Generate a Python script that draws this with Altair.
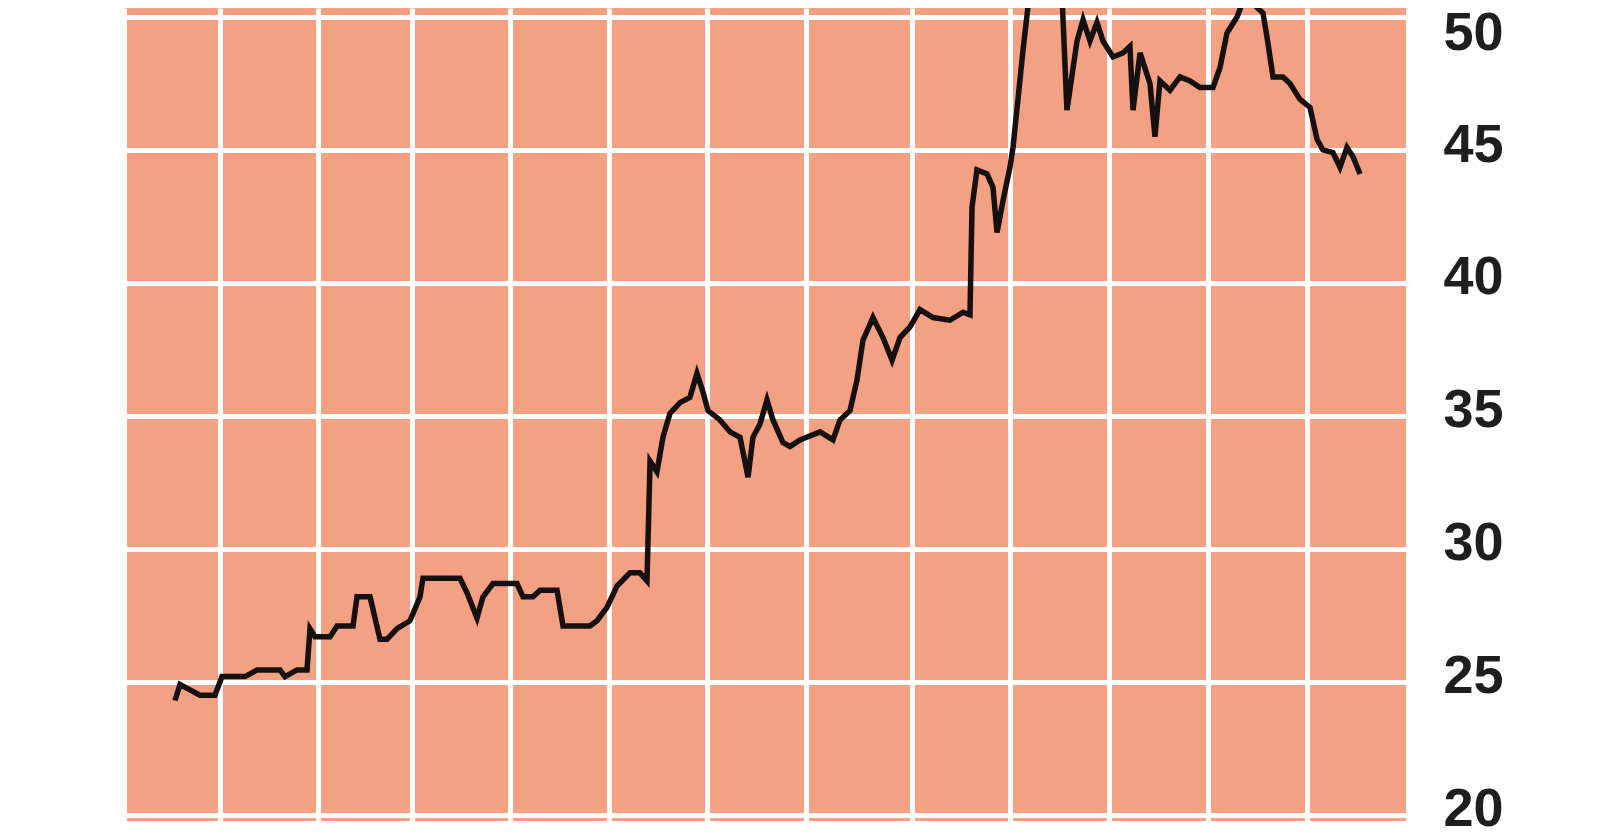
import altair as alt
import pandas as pd

# x position in months since start of period, y = price
months = [0.516, 0.567, 0.668, 0.769, 0.921, 0.992, 1.225, 1.347, 1.579, 1.630,
          1.752, 1.853, 1.883, 1.934, 2.086, 2.157, 2.319, 2.359, 2.491, 2.592,
          2.663, 2.764, 2.896, 2.997, 3.027, 3.402, 3.473, 3.574, 3.635, 3.736,
          3.979, 4.040, 4.141, 4.212, 4.384, 4.445, 4.718, 4.789, 4.890, 4.991,
          5.123, 5.224, 5.295, 5.326, 5.396, 5.457, 5.528, 5.629, 5.730, 5.801,
          5.862, 5.913, 6.034, 6.136, 6.237, 6.318, 6.368, 6.439, 6.510, 6.571,
          6.672, 6.743, 6.844, 7.047, 7.178, 7.249, 7.350, 7.421, 7.482, 7.583,
          7.684, 7.776, 7.857, 7.958, 8.059, 8.191, 8.363, 8.494, 8.565, 8.586,
          8.636, 8.737, 8.798, 8.839, 8.900, 8.970, 9.001, 9.051, 9.102, 9.153,
          9.223, 9.325, 9.426, 9.497, 9.547, 9.649, 9.710, 9.780, 9.851, 9.912,
          10.013, 10.114, 10.185, 10.216, 10.287, 10.388, 10.438, 10.489, 10.590, 10.692,
          10.793, 10.894, 11.026, 11.097, 11.167, 11.269, 11.330, 11.431, 11.532, 11.583,
          11.633, 11.734, 11.805, 11.907, 12.008, 12.079, 12.139, 12.240, 12.311, 12.382,
          12.443, 12.514]
prices = [24.3, 24.9, 24.7, 24.5, 24.5, 25.2, 25.2, 25.45, 25.45, 25.2,
          25.45, 25.45, 27.0, 26.7, 26.7, 27.1, 27.1, 28.2, 28.2, 26.6,
          26.6, 27.0, 27.3, 28.2, 28.9, 28.9, 28.35, 27.4, 28.2, 28.7,
          28.7, 28.2, 28.2, 28.45, 28.45, 27.1, 27.1, 27.3, 27.8, 28.6,
          29.1, 29.1, 28.8, 33.3, 32.9, 34.2, 35.1, 35.5, 35.7, 36.6,
          35.9, 35.2, 34.85, 34.4, 34.2, 32.7, 34.2, 34.7, 35.6, 34.85,
          34.0, 33.85, 34.1, 34.4, 34.1, 34.85, 35.2, 36.35, 37.85, 38.7,
          37.95, 37.1, 37.95, 38.35, 39.0, 38.7, 38.6, 38.9, 38.8, 42.85,
          44.25, 44.1, 43.6, 41.9, 43.1, 44.35, 45.1, 46.9, 48.75, 50.4,
          51.8, 52.3, 51.5, 50.8, 46.5, 49.1, 49.9, 49.1, 49.8, 49.1,
          48.5, 48.65, 48.9, 46.5, 48.65, 47.5, 45.5, 47.6, 47.25, 47.75,
          47.6, 47.35, 47.35, 48.1, 49.4, 50.0, 50.6, 50.5, 50.15, 49.0,
          47.75, 47.75, 47.5, 46.9, 46.6, 45.4, 45.0, 44.9, 44.35, 45.1,
          44.75, 44.1]

y_ticks = [20, 25, 30, 35, 40, 45, 50]
# month boundaries (gridlines)
x_grid = [0, 0.972, 1.964, 2.916, 3.908, 4.910, 5.903, 6.905, 7.978,
          8.970, 9.973, 10.975, 11.977, 13]

df = pd.DataFrame({"m": months, "price": prices})

chart = alt.Chart(df).mark_line(
    color="#161010", strokeWidth=5.5, clip=True, strokeJoin="miter"
).encode(
    x=alt.X("m:Q",
            scale=alt.Scale(domain=[0, 13], nice=False, zero=False),
            axis=alt.Axis(values=x_grid, labels=False, ticks=False, domain=False,
                          title=None, grid=True)),
    y=alt.Y("price:Q",
            scale=alt.Scale(domain=[19.77, 50.34], nice=False, zero=False),
            axis=alt.Axis(orient="right", values=y_ticks, ticks=False, domain=False,
                          title=None, grid=True, labelFontSize=54,
                          labelFont="Liberation Sans", labelFontWeight="bold",
                          labelColor="#1e1e1e", labelPadding=35,
                          labelOffset=alt.condition("datum.value == 50",
                                                    alt.value(16), alt.value(-5)))),
).properties(
    width=1284, height=813,
    padding={"left": 116, "top": 0, "right": 180, "bottom": 15},
    autosize=alt.AutoSizeParams(type="none"),
    background="white",
).configure_view(
    fill="#F3A083", stroke=None
).configure_axis(
    gridColor="white", gridWidth=5, gridOpacity=1
)

chart.save("out.html", embed_options={"renderer": "svg", "actions": False})
